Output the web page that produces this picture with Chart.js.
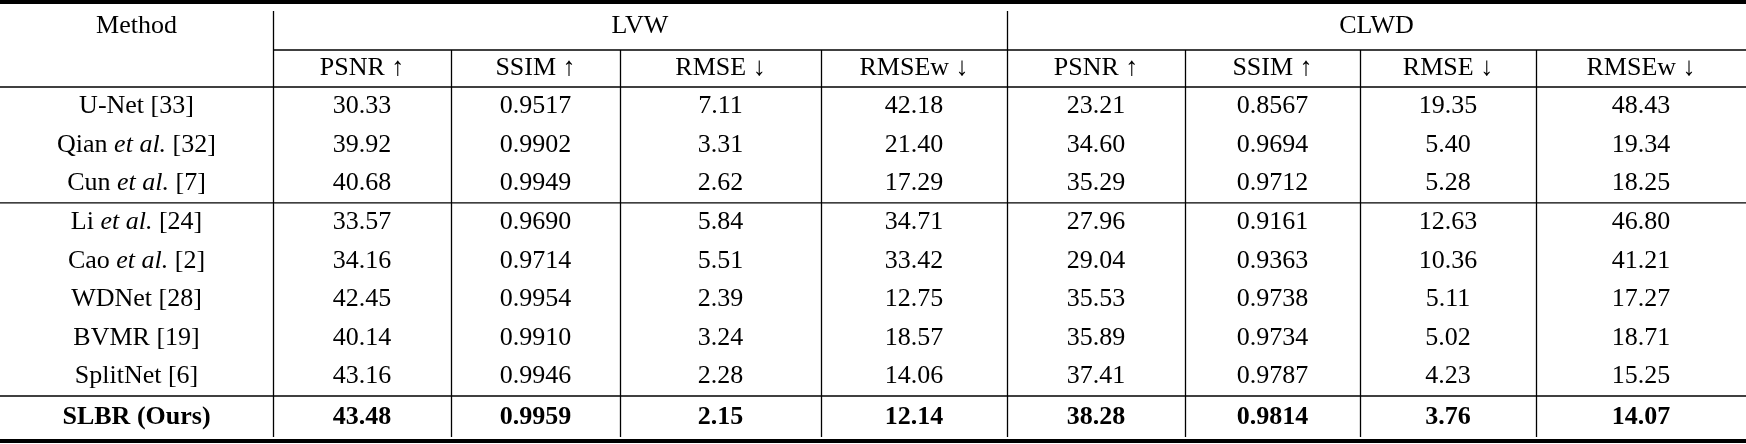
<!DOCTYPE html>
<html><head><meta charset="utf-8">
<script src="https://cdn.jsdelivr.net/npm/chart.js@4"></script>
<style>html,body{margin:0;padding:0;background:#fff}</style>
</head><body><canvas id="c" width="1746" height="444"></canvas>
<script>
const methods = ["U-Net [33]", "Qian et al. [32]", "Cun et al. [7]", "Li et al. [24]", "Cao et al. [2]", "WDNet [28]", "BVMR [19]", "SplitNet [6]", "SLBR (Ours)"];
const datasets = ["LVW", "CLWD"];
const metrics = ["PSNR ↑", "SSIM ↑", "RMSE ↓", "RMSEw ↓"];
const lvwPSNR = ["30.33","39.92","40.68","33.57","34.16","42.45","40.14","43.16","43.48"];
const lvwSSIM = ["0.9517","0.9902","0.9949","0.9690","0.9714","0.9954","0.9910","0.9946","0.9959"];
const lvwRMSE = ["7.11","3.31","2.62","5.84","5.51","2.39","3.24","2.28","2.15"];
const lvwRMSEw = ["42.18","21.40","17.29","34.71","33.42","12.75","18.57","14.06","12.14"];
const clwdPSNR = ["23.21","34.60","35.29","27.96","29.04","35.53","35.89","37.41","38.28"];
const clwdSSIM = ["0.8567","0.9694","0.9712","0.9161","0.9363","0.9738","0.9734","0.9787","0.9814"];
const clwdRMSE = ["19.35","5.40","5.28","12.63","10.36","5.11","5.02","4.23","3.76"];
const clwdRMSEw = ["48.43","19.34","18.25","46.80","41.21","17.27","18.71","15.25","14.07"];
const columns = [lvwPSNR, lvwSSIM, lvwRMSE, lvwRMSEw, clwdPSNR, clwdSSIM, clwdRMSE, clwdRMSEw];

const X = [0, 273, 451, 620, 821, 1007, 1185, 1360, 1536, 1746];
const FONT = '"Liberation Serif", "DejaVu Serif", serif';
const FS = 26;

function drawMethod(ctx, name, cx, cy, bold) {
  const m = name.match(/^(.*?)(et al\.)(.*)$/);
  const w = bold ? 'bold ' : '';
  if (!m) { ctx.font = w + FS + 'px ' + FONT; ctx.textAlign='center'; ctx.fillText(name, cx, cy); return; }
  const parts = [[m[1], w], [m[2], 'italic ' + w], [m[3], w]];
  let total = 0;
  parts.forEach(p => { ctx.font = p[1] + FS + 'px ' + FONT; total += ctx.measureText(p[0]).width; });
  let x = cx - total / 2;
  ctx.textAlign = 'left';
  parts.forEach(p => { ctx.font = p[1] + FS + 'px ' + FONT; ctx.fillText(p[0], x, cy); x += ctx.measureText(p[0]).width; });
}

const tablePlugin = {
  id: 'table',
  afterDraw(chart) {
    const ctx = chart.ctx;
    ctx.save();
    ctx.fillStyle = '#000'; ctx.strokeStyle = '#000';
    ctx.textBaseline = 'middle';
    const line = (x1, y1, x2, y2, w) => { ctx.lineWidth = w; ctx.beginPath(); ctx.moveTo(x1, y1); ctx.lineTo(x2, y2); ctx.stroke(); };
    const head1 = 50, head2 = 87, top = 2, bottom = 441;
    const rowH = 38.6;
    const rowY = [];
    for (let i = 0; i < 8; i++) rowY.push(head2 + rowH * (i + 0.5));
    const mid = head2 + rowH * 3;
    const sep = 396;
    rowY.push(417);
    // rules
    line(0, top, 1746, top, 4);
    line(0, bottom, 1746, bottom, 4);
    line(X[1], head1, 1746, head1, 1.3);
    line(0, head2, 1746, head2, 1.3);
    line(0, mid, 1746, mid, 1.3);
    line(0, sep, 1746, sep, 1.3);
    for (let i = 1; i < 9; i++) {
      const y0 = (i === 1 || i === 5) ? 11 : head1;
      line(X[i] + 0.5, y0, X[i] + 0.5, bottom - 4, 1.3);
    }
    ctx.font = FS + 'px ' + FONT; ctx.textAlign = 'center';
    ctx.fillText('Method', X[1] / 2, 26);
    ctx.fillText(datasets[0], (X[1] + X[5]) / 2, 26);
    ctx.fillText(datasets[1], (X[5] + X[9]) / 2, 26);
    for (let c = 0; c < 8; c++) ctx.fillText(metrics[c % 4], (X[c + 1] + X[c + 2]) / 2, 68);
    methods.forEach((m, r) => {
      const bold = r === 8;
      drawMethod(ctx, m, X[1] / 2, rowY[r], bold);
      ctx.textAlign = 'center';
      ctx.font = (bold ? 'bold ' : '') + FS + 'px ' + FONT;
      columns.forEach((col, c) => ctx.fillText(col[r], (X[c + 1] + X[c + 2]) / 2, rowY[r]));
    });
    ctx.restore();
  }
};

new Chart(document.getElementById('c'), {
  type: 'scatter',
  data: { datasets: [] },
  options: {
    responsive: false, animation: false, devicePixelRatio: 1,
    plugins: { legend: { display: false }, tooltip: { enabled: false } },
    scales: { x: { display: false }, y: { display: false } }
  },
  plugins: [tablePlugin]
});
</script></body></html>
